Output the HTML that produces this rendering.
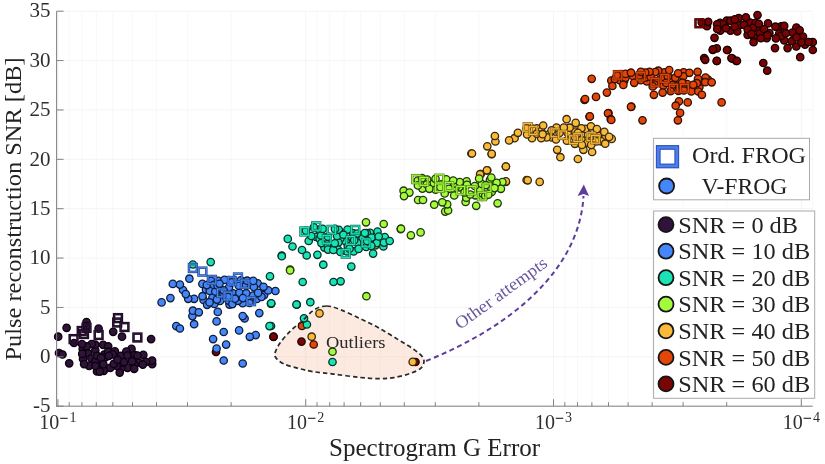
<!DOCTYPE html><html><head><meta charset="utf-8"><style>html,body{margin:0;padding:0;background:#fff;width:825px;height:464px;overflow:hidden}svg{display:block;filter:blur(0.3px)}</style></head><body><svg width="825" height="464" viewBox="0 0 825 464"><rect width="825" height="464" fill="#fff"/><line x1="57.90" y1="11.3" x2="57.90" y2="406.2" stroke="#f4f4f4" stroke-width="1"/><line x1="305.70" y1="11.3" x2="305.70" y2="406.2" stroke="#f4f4f4" stroke-width="1"/><line x1="231.10" y1="11.3" x2="231.10" y2="406.2" stroke="#f8f8f8" stroke-width="1"/><line x1="187.47" y1="11.3" x2="187.47" y2="406.2" stroke="#f8f8f8" stroke-width="1"/><line x1="156.51" y1="11.3" x2="156.51" y2="406.2" stroke="#f8f8f8" stroke-width="1"/><line x1="132.50" y1="11.3" x2="132.50" y2="406.2" stroke="#f8f8f8" stroke-width="1"/><line x1="112.87" y1="11.3" x2="112.87" y2="406.2" stroke="#f8f8f8" stroke-width="1"/><line x1="96.28" y1="11.3" x2="96.28" y2="406.2" stroke="#f8f8f8" stroke-width="1"/><line x1="81.91" y1="11.3" x2="81.91" y2="406.2" stroke="#f8f8f8" stroke-width="1"/><line x1="69.24" y1="11.3" x2="69.24" y2="406.2" stroke="#f8f8f8" stroke-width="1"/><line x1="553.50" y1="11.3" x2="553.50" y2="406.2" stroke="#f4f4f4" stroke-width="1"/><line x1="478.90" y1="11.3" x2="478.90" y2="406.2" stroke="#f8f8f8" stroke-width="1"/><line x1="435.27" y1="11.3" x2="435.27" y2="406.2" stroke="#f8f8f8" stroke-width="1"/><line x1="404.31" y1="11.3" x2="404.31" y2="406.2" stroke="#f8f8f8" stroke-width="1"/><line x1="380.30" y1="11.3" x2="380.30" y2="406.2" stroke="#f8f8f8" stroke-width="1"/><line x1="360.67" y1="11.3" x2="360.67" y2="406.2" stroke="#f8f8f8" stroke-width="1"/><line x1="344.08" y1="11.3" x2="344.08" y2="406.2" stroke="#f8f8f8" stroke-width="1"/><line x1="329.71" y1="11.3" x2="329.71" y2="406.2" stroke="#f8f8f8" stroke-width="1"/><line x1="317.04" y1="11.3" x2="317.04" y2="406.2" stroke="#f8f8f8" stroke-width="1"/><line x1="801.30" y1="11.3" x2="801.30" y2="406.2" stroke="#f4f4f4" stroke-width="1"/><line x1="726.70" y1="11.3" x2="726.70" y2="406.2" stroke="#f8f8f8" stroke-width="1"/><line x1="683.07" y1="11.3" x2="683.07" y2="406.2" stroke="#f8f8f8" stroke-width="1"/><line x1="652.11" y1="11.3" x2="652.11" y2="406.2" stroke="#f8f8f8" stroke-width="1"/><line x1="628.10" y1="11.3" x2="628.10" y2="406.2" stroke="#f8f8f8" stroke-width="1"/><line x1="608.47" y1="11.3" x2="608.47" y2="406.2" stroke="#f8f8f8" stroke-width="1"/><line x1="591.88" y1="11.3" x2="591.88" y2="406.2" stroke="#f8f8f8" stroke-width="1"/><line x1="577.51" y1="11.3" x2="577.51" y2="406.2" stroke="#f8f8f8" stroke-width="1"/><line x1="564.84" y1="11.3" x2="564.84" y2="406.2" stroke="#f8f8f8" stroke-width="1"/><line x1="812.64" y1="11.3" x2="812.64" y2="406.2" stroke="#f8f8f8" stroke-width="1"/><line x1="56.6" y1="406.17" x2="812.7" y2="406.17" stroke="#f4f4f4" stroke-width="1"/><line x1="56.6" y1="356.80" x2="812.7" y2="356.80" stroke="#f4f4f4" stroke-width="1"/><line x1="56.6" y1="307.43" x2="812.7" y2="307.43" stroke="#f4f4f4" stroke-width="1"/><line x1="56.6" y1="258.06" x2="812.7" y2="258.06" stroke="#f4f4f4" stroke-width="1"/><line x1="56.6" y1="208.69" x2="812.7" y2="208.69" stroke="#f4f4f4" stroke-width="1"/><line x1="56.6" y1="159.32" x2="812.7" y2="159.32" stroke="#f4f4f4" stroke-width="1"/><line x1="56.6" y1="109.95" x2="812.7" y2="109.95" stroke="#f4f4f4" stroke-width="1"/><line x1="56.6" y1="60.58" x2="812.7" y2="60.58" stroke="#f4f4f4" stroke-width="1"/><line x1="56.6" y1="11.21" x2="812.7" y2="11.21" stroke="#f4f4f4" stroke-width="1"/><path d="M326.6,306.0 C330.8,306.0 334.5,307.4 340.0,309.5 C345.5,311.6 352.9,315.2 359.4,318.3 C365.9,321.4 372.4,324.3 378.8,327.9 C385.2,331.4 392.3,336.0 398.1,339.6 C403.9,343.2 409.4,346.2 413.6,349.3 C417.8,352.4 422.2,355.4 423.5,358.5 C424.8,361.6 423.6,365.2 421.4,367.7 C419.1,370.2 414.6,371.9 410.0,373.5 C405.4,375.1 399.2,376.7 394.0,377.6 C388.8,378.5 384.6,378.7 378.8,378.7 C373.0,378.7 366.9,378.2 359.4,377.4 C351.8,376.6 341.3,375.1 333.5,374.1 C325.7,373.1 318.8,372.6 312.8,371.6 C306.8,370.6 302.2,369.4 297.3,368.1 C292.4,366.8 286.9,365.4 283.5,363.8 C280.1,362.2 278.0,360.3 276.6,358.6 C275.2,356.9 274.3,356.0 274.9,353.4 C275.5,350.8 277.4,346.8 280.0,343.1 C282.6,339.4 286.6,334.7 290.4,331.0 C294.1,327.3 298.5,324.3 302.5,320.7 C306.5,317.1 310.6,311.9 314.6,309.5 C318.6,307.1 322.4,306.0 326.6,306.0Z" fill="#f6b48f" fill-opacity="0.28" stroke="none"/><g><circle cx="750.2" cy="22.5" r="3.7" fill="#7a0403" stroke="#1a0000" stroke-width="1.3"/><circle cx="768.0" cy="23.4" r="3.7" fill="#7a0403" stroke="#1a0000" stroke-width="1.3"/><circle cx="757.5" cy="15.1" r="3.7" fill="#7a0403" stroke="#1a0000" stroke-width="1.3"/><circle cx="791.8" cy="41.2" r="3.7" fill="#7a0403" stroke="#1a0000" stroke-width="1.3"/><circle cx="796.4" cy="27.5" r="3.7" fill="#7a0403" stroke="#1a0000" stroke-width="1.3"/><circle cx="736.2" cy="61.0" r="3.7" fill="#7a0403" stroke="#1a0000" stroke-width="1.3"/><circle cx="769.4" cy="33.1" r="3.7" fill="#7a0403" stroke="#1a0000" stroke-width="1.3"/><circle cx="726.8" cy="20.7" r="3.7" fill="#7a0403" stroke="#1a0000" stroke-width="1.3"/><circle cx="779.2" cy="33.6" r="3.7" fill="#7a0403" stroke="#1a0000" stroke-width="1.3"/><circle cx="714.5" cy="37.8" r="3.7" fill="#7a0403" stroke="#1a0000" stroke-width="1.3"/><circle cx="720.1" cy="22.8" r="3.7" fill="#7a0403" stroke="#1a0000" stroke-width="1.3"/><circle cx="730.5" cy="30.7" r="3.7" fill="#7a0403" stroke="#1a0000" stroke-width="1.3"/><circle cx="738.7" cy="18.1" r="3.7" fill="#7a0403" stroke="#1a0000" stroke-width="1.3"/><circle cx="757.2" cy="28.3" r="3.7" fill="#7a0403" stroke="#1a0000" stroke-width="1.3"/><circle cx="273.5" cy="336.8" r="3.7" fill="#7a0403" stroke="#1a0000" stroke-width="1.3"/><circle cx="781.1" cy="26.4" r="3.7" fill="#7a0403" stroke="#1a0000" stroke-width="1.3"/><circle cx="716.8" cy="48.4" r="3.7" fill="#7a0403" stroke="#1a0000" stroke-width="1.3"/><circle cx="720.3" cy="30.6" r="3.7" fill="#7a0403" stroke="#1a0000" stroke-width="1.3"/><circle cx="722.9" cy="24.3" r="3.7" fill="#7a0403" stroke="#1a0000" stroke-width="1.3"/><circle cx="415.5" cy="362.0" r="3.7" fill="#7a0403" stroke="#1a0000" stroke-width="1.3"/><circle cx="716.8" cy="61.0" r="3.7" fill="#7a0403" stroke="#1a0000" stroke-width="1.3"/><circle cx="796.3" cy="46.5" r="3.7" fill="#7a0403" stroke="#1a0000" stroke-width="1.3"/><circle cx="805.0" cy="44.6" r="3.7" fill="#7a0403" stroke="#1a0000" stroke-width="1.3"/><circle cx="739.1" cy="25.3" r="3.7" fill="#7a0403" stroke="#1a0000" stroke-width="1.3"/><circle cx="726.0" cy="28.2" r="3.7" fill="#7a0403" stroke="#1a0000" stroke-width="1.3"/><circle cx="712.8" cy="50.0" r="3.7" fill="#7a0403" stroke="#1a0000" stroke-width="1.3"/><circle cx="812.8" cy="50.0" r="3.7" fill="#7a0403" stroke="#1a0000" stroke-width="1.3"/><circle cx="301.5" cy="341.6" r="3.7" fill="#7a0403" stroke="#1a0000" stroke-width="1.3"/><circle cx="712.9" cy="49.4" r="3.7" fill="#7a0403" stroke="#1a0000" stroke-width="1.3"/><circle cx="737.3" cy="31.5" r="3.7" fill="#7a0403" stroke="#1a0000" stroke-width="1.3"/><circle cx="754.1" cy="37.0" r="3.7" fill="#7a0403" stroke="#1a0000" stroke-width="1.3"/><circle cx="792.4" cy="32.6" r="3.7" fill="#7a0403" stroke="#1a0000" stroke-width="1.3"/><circle cx="784.2" cy="40.3" r="3.7" fill="#7a0403" stroke="#1a0000" stroke-width="1.3"/><circle cx="759.9" cy="33.4" r="3.7" fill="#7a0403" stroke="#1a0000" stroke-width="1.3"/><circle cx="744.0" cy="24.8" r="3.7" fill="#7a0403" stroke="#1a0000" stroke-width="1.3"/><circle cx="755.7" cy="22.8" r="3.7" fill="#7a0403" stroke="#1a0000" stroke-width="1.3"/><circle cx="732.5" cy="58.7" r="3.7" fill="#7a0403" stroke="#1a0000" stroke-width="1.3"/><circle cx="727.5" cy="50.0" r="3.7" fill="#7a0403" stroke="#1a0000" stroke-width="1.3"/><circle cx="803.0" cy="36.6" r="3.7" fill="#7a0403" stroke="#1a0000" stroke-width="1.3"/><circle cx="767.2" cy="70.7" r="3.7" fill="#7a0403" stroke="#1a0000" stroke-width="1.3"/><circle cx="775.0" cy="48.1" r="3.7" fill="#7a0403" stroke="#1a0000" stroke-width="1.3"/><circle cx="730.4" cy="20.7" r="3.7" fill="#7a0403" stroke="#1a0000" stroke-width="1.3"/><circle cx="734.7" cy="26.6" r="3.7" fill="#7a0403" stroke="#1a0000" stroke-width="1.3"/><circle cx="216.0" cy="352.0" r="3.7" fill="#7a0403" stroke="#1a0000" stroke-width="1.3"/><circle cx="787.6" cy="48.1" r="3.7" fill="#7a0403" stroke="#1a0000" stroke-width="1.3"/><circle cx="727.0" cy="50.0" r="3.7" fill="#7a0403" stroke="#1a0000" stroke-width="1.3"/><circle cx="717.1" cy="24.3" r="3.7" fill="#7a0403" stroke="#1a0000" stroke-width="1.3"/><circle cx="707.0" cy="26.2" r="3.7" fill="#7a0403" stroke="#1a0000" stroke-width="1.3"/><circle cx="764.0" cy="29.0" r="3.7" fill="#7a0403" stroke="#1a0000" stroke-width="1.3"/><circle cx="801.4" cy="42.4" r="3.7" fill="#7a0403" stroke="#1a0000" stroke-width="1.3"/><circle cx="812.8" cy="42.2" r="3.7" fill="#7a0403" stroke="#1a0000" stroke-width="1.3"/><circle cx="708.2" cy="21.8" r="3.7" fill="#7a0403" stroke="#1a0000" stroke-width="1.3"/><circle cx="734.8" cy="19.4" r="3.7" fill="#7a0403" stroke="#1a0000" stroke-width="1.3"/><circle cx="781.1" cy="35.9" r="3.7" fill="#7a0403" stroke="#1a0000" stroke-width="1.3"/><circle cx="784.2" cy="25.9" r="3.7" fill="#7a0403" stroke="#1a0000" stroke-width="1.3"/><circle cx="763.3" cy="63.0" r="3.7" fill="#7a0403" stroke="#1a0000" stroke-width="1.3"/><circle cx="766.7" cy="38.2" r="3.7" fill="#7a0403" stroke="#1a0000" stroke-width="1.3"/><circle cx="758.8" cy="23.8" r="3.7" fill="#7a0403" stroke="#1a0000" stroke-width="1.3"/><circle cx="747.6" cy="34.8" r="3.7" fill="#7a0403" stroke="#1a0000" stroke-width="1.3"/><circle cx="704.2" cy="58.1" r="3.7" fill="#7a0403" stroke="#1a0000" stroke-width="1.3"/><circle cx="705.2" cy="59.8" r="3.7" fill="#7a0403" stroke="#1a0000" stroke-width="1.3"/><circle cx="785.9" cy="33.2" r="3.7" fill="#7a0403" stroke="#1a0000" stroke-width="1.3"/><circle cx="753.6" cy="42.2" r="3.7" fill="#7a0403" stroke="#1a0000" stroke-width="1.3"/><circle cx="717.2" cy="29.0" r="3.7" fill="#7a0403" stroke="#1a0000" stroke-width="1.3"/><circle cx="775.4" cy="26.7" r="3.7" fill="#7a0403" stroke="#1a0000" stroke-width="1.3"/><circle cx="731.4" cy="58.1" r="3.7" fill="#7a0403" stroke="#1a0000" stroke-width="1.3"/><circle cx="701.7" cy="22.5" r="3.7" fill="#7a0403" stroke="#1a0000" stroke-width="1.3"/><circle cx="273.5" cy="336.7" r="3.7" fill="#7a0403" stroke="#1a0000" stroke-width="1.3"/><circle cx="752.8" cy="28.1" r="3.7" fill="#7a0403" stroke="#1a0000" stroke-width="1.3"/><circle cx="745.9" cy="17.4" r="3.7" fill="#7a0403" stroke="#1a0000" stroke-width="1.3"/><circle cx="716.8" cy="60.9" r="3.7" fill="#7a0403" stroke="#1a0000" stroke-width="1.3"/><circle cx="747.7" cy="29.6" r="3.7" fill="#7a0403" stroke="#1a0000" stroke-width="1.3"/><circle cx="799.7" cy="30.3" r="3.7" fill="#7a0403" stroke="#1a0000" stroke-width="1.3"/><circle cx="796.5" cy="37.4" r="3.7" fill="#7a0403" stroke="#1a0000" stroke-width="1.3"/><circle cx="808.6" cy="42.0" r="3.7" fill="#7a0403" stroke="#1a0000" stroke-width="1.3"/><circle cx="760.9" cy="38.2" r="3.7" fill="#7a0403" stroke="#1a0000" stroke-width="1.3"/><circle cx="736.9" cy="60.9" r="3.7" fill="#7a0403" stroke="#1a0000" stroke-width="1.3"/><circle cx="767.4" cy="35.2" r="3.7" fill="#7a0403" stroke="#1a0000" stroke-width="1.3"/><circle cx="775.9" cy="38.4" r="3.7" fill="#7a0403" stroke="#1a0000" stroke-width="1.3"/><circle cx="751.5" cy="34.0" r="3.7" fill="#7a0403" stroke="#1a0000" stroke-width="1.3"/><circle cx="800.2" cy="57.2" r="3.7" fill="#7a0403" stroke="#1a0000" stroke-width="1.3"/><circle cx="699.4" cy="87.1" r="3.7" fill="#e4460a" stroke="#320f02" stroke-width="1.3"/><circle cx="708.0" cy="79.5" r="3.7" fill="#e4460a" stroke="#320f02" stroke-width="1.3"/><circle cx="660.1" cy="79.3" r="3.7" fill="#e4460a" stroke="#320f02" stroke-width="1.3"/><circle cx="705.5" cy="77.5" r="3.7" fill="#e4460a" stroke="#320f02" stroke-width="1.3"/><circle cx="664.4" cy="72.4" r="3.7" fill="#e4460a" stroke="#320f02" stroke-width="1.3"/><circle cx="683.6" cy="72.3" r="3.7" fill="#e4460a" stroke="#320f02" stroke-width="1.3"/><circle cx="671.3" cy="78.7" r="3.7" fill="#e4460a" stroke="#320f02" stroke-width="1.3"/><circle cx="619.9" cy="80.4" r="3.7" fill="#e4460a" stroke="#320f02" stroke-width="1.3"/><circle cx="691.3" cy="91.4" r="3.7" fill="#e4460a" stroke="#320f02" stroke-width="1.3"/><circle cx="654.8" cy="81.1" r="3.7" fill="#e4460a" stroke="#320f02" stroke-width="1.3"/><circle cx="689.4" cy="72.8" r="3.7" fill="#e4460a" stroke="#320f02" stroke-width="1.3"/><circle cx="646.8" cy="81.4" r="3.7" fill="#e4460a" stroke="#320f02" stroke-width="1.3"/><circle cx="687.2" cy="84.1" r="3.7" fill="#e4460a" stroke="#320f02" stroke-width="1.3"/><circle cx="658.3" cy="70.7" r="3.7" fill="#e4460a" stroke="#320f02" stroke-width="1.3"/><circle cx="701.0" cy="81.5" r="3.7" fill="#e4460a" stroke="#320f02" stroke-width="1.3"/><circle cx="653.9" cy="94.8" r="3.7" fill="#e4460a" stroke="#320f02" stroke-width="1.3"/><circle cx="302.0" cy="326.0" r="3.7" fill="#e4460a" stroke="#320f02" stroke-width="1.3"/><circle cx="679.0" cy="101.3" r="3.7" fill="#e4460a" stroke="#320f02" stroke-width="1.3"/><circle cx="698.0" cy="78.9" r="3.7" fill="#e4460a" stroke="#320f02" stroke-width="1.3"/><circle cx="678.1" cy="85.7" r="3.7" fill="#e4460a" stroke="#320f02" stroke-width="1.3"/><circle cx="589.5" cy="116.6" r="3.7" fill="#e4460a" stroke="#320f02" stroke-width="1.3"/><circle cx="584.5" cy="100.0" r="3.7" fill="#e4460a" stroke="#320f02" stroke-width="1.3"/><circle cx="655.2" cy="72.1" r="3.7" fill="#e4460a" stroke="#320f02" stroke-width="1.3"/><circle cx="646.2" cy="77.3" r="3.7" fill="#e4460a" stroke="#320f02" stroke-width="1.3"/><circle cx="640.7" cy="80.2" r="3.7" fill="#e4460a" stroke="#320f02" stroke-width="1.3"/><circle cx="683.2" cy="76.4" r="3.7" fill="#e4460a" stroke="#320f02" stroke-width="1.3"/><circle cx="663.4" cy="85.7" r="3.7" fill="#e4460a" stroke="#320f02" stroke-width="1.3"/><circle cx="698.3" cy="91.5" r="3.7" fill="#e4460a" stroke="#320f02" stroke-width="1.3"/><circle cx="631.4" cy="106.6" r="3.7" fill="#e4460a" stroke="#320f02" stroke-width="1.3"/><circle cx="662.6" cy="92.6" r="3.7" fill="#e4460a" stroke="#320f02" stroke-width="1.3"/><circle cx="696.8" cy="83.2" r="3.7" fill="#e4460a" stroke="#320f02" stroke-width="1.3"/><circle cx="705.2" cy="82.2" r="3.7" fill="#e4460a" stroke="#320f02" stroke-width="1.3"/><circle cx="678.4" cy="90.8" r="3.7" fill="#e4460a" stroke="#320f02" stroke-width="1.3"/><circle cx="596.0" cy="96.9" r="3.7" fill="#e4460a" stroke="#320f02" stroke-width="1.3"/><circle cx="701.9" cy="94.8" r="3.7" fill="#e4460a" stroke="#320f02" stroke-width="1.3"/><circle cx="631.0" cy="106.8" r="3.7" fill="#e4460a" stroke="#320f02" stroke-width="1.3"/><circle cx="654.4" cy="84.6" r="3.7" fill="#e4460a" stroke="#320f02" stroke-width="1.3"/><circle cx="591.7" cy="78.8" r="3.7" fill="#e4460a" stroke="#320f02" stroke-width="1.3"/><circle cx="624.2" cy="80.8" r="3.7" fill="#e4460a" stroke="#320f02" stroke-width="1.3"/><circle cx="611.3" cy="80.6" r="3.7" fill="#e4460a" stroke="#320f02" stroke-width="1.3"/><circle cx="614.8" cy="79.1" r="3.7" fill="#e4460a" stroke="#320f02" stroke-width="1.3"/><circle cx="672.1" cy="85.1" r="3.7" fill="#e4460a" stroke="#320f02" stroke-width="1.3"/><circle cx="663.5" cy="77.1" r="3.7" fill="#e4460a" stroke="#320f02" stroke-width="1.3"/><circle cx="675.3" cy="77.8" r="3.7" fill="#e4460a" stroke="#320f02" stroke-width="1.3"/><circle cx="677.9" cy="120.3" r="3.7" fill="#e4460a" stroke="#320f02" stroke-width="1.3"/><circle cx="621.1" cy="74.1" r="3.7" fill="#e4460a" stroke="#320f02" stroke-width="1.3"/><circle cx="612.4" cy="86.0" r="3.7" fill="#e4460a" stroke="#320f02" stroke-width="1.3"/><circle cx="711.7" cy="82.3" r="3.7" fill="#e4460a" stroke="#320f02" stroke-width="1.3"/><circle cx="608.5" cy="113.1" r="3.7" fill="#e4460a" stroke="#320f02" stroke-width="1.3"/><circle cx="667.8" cy="76.4" r="3.7" fill="#e4460a" stroke="#320f02" stroke-width="1.3"/><circle cx="650.7" cy="77.0" r="3.7" fill="#e4460a" stroke="#320f02" stroke-width="1.3"/><circle cx="632.8" cy="76.0" r="3.7" fill="#e4460a" stroke="#320f02" stroke-width="1.3"/><circle cx="721.6" cy="102.4" r="3.7" fill="#e4460a" stroke="#320f02" stroke-width="1.3"/><circle cx="682.6" cy="86.5" r="3.7" fill="#e4460a" stroke="#320f02" stroke-width="1.3"/><circle cx="693.3" cy="84.8" r="3.7" fill="#e4460a" stroke="#320f02" stroke-width="1.3"/><circle cx="608.0" cy="113.3" r="3.7" fill="#e4460a" stroke="#320f02" stroke-width="1.3"/><circle cx="589.9" cy="116.4" r="3.7" fill="#e4460a" stroke="#320f02" stroke-width="1.3"/><circle cx="634.2" cy="82.8" r="3.7" fill="#e4460a" stroke="#320f02" stroke-width="1.3"/><circle cx="680.1" cy="112.9" r="3.7" fill="#e4460a" stroke="#320f02" stroke-width="1.3"/><circle cx="669.2" cy="70.1" r="3.7" fill="#e4460a" stroke="#320f02" stroke-width="1.3"/><circle cx="683.8" cy="90.5" r="3.7" fill="#e4460a" stroke="#320f02" stroke-width="1.3"/><circle cx="610.7" cy="119.2" r="3.7" fill="#e4460a" stroke="#320f02" stroke-width="1.3"/><circle cx="606.9" cy="92.6" r="3.7" fill="#e4460a" stroke="#320f02" stroke-width="1.3"/><circle cx="585.1" cy="99.1" r="3.7" fill="#e4460a" stroke="#320f02" stroke-width="1.3"/><circle cx="625.5" cy="77.7" r="3.7" fill="#e4460a" stroke="#320f02" stroke-width="1.3"/><circle cx="639.3" cy="75.4" r="3.7" fill="#e4460a" stroke="#320f02" stroke-width="1.3"/><circle cx="675.7" cy="105.7" r="3.7" fill="#e4460a" stroke="#320f02" stroke-width="1.3"/><circle cx="697.6" cy="71.8" r="3.7" fill="#e4460a" stroke="#320f02" stroke-width="1.3"/><circle cx="642.5" cy="120.3" r="3.7" fill="#e4460a" stroke="#320f02" stroke-width="1.3"/><circle cx="678.1" cy="73.3" r="3.7" fill="#e4460a" stroke="#320f02" stroke-width="1.3"/><circle cx="670.6" cy="91.2" r="3.7" fill="#e4460a" stroke="#320f02" stroke-width="1.3"/><circle cx="625.5" cy="73.9" r="3.7" fill="#e4460a" stroke="#320f02" stroke-width="1.3"/><circle cx="623.3" cy="84.9" r="3.7" fill="#e4460a" stroke="#320f02" stroke-width="1.3"/><circle cx="649.5" cy="71.8" r="3.7" fill="#e4460a" stroke="#320f02" stroke-width="1.3"/><circle cx="611.3" cy="119.9" r="3.7" fill="#e4460a" stroke="#320f02" stroke-width="1.3"/><circle cx="687.7" cy="102.4" r="3.7" fill="#e4460a" stroke="#320f02" stroke-width="1.3"/><circle cx="682.2" cy="82.7" r="3.7" fill="#e4460a" stroke="#320f02" stroke-width="1.3"/><circle cx="616.8" cy="75.4" r="3.7" fill="#e4460a" stroke="#320f02" stroke-width="1.3"/><circle cx="666.2" cy="82.9" r="3.7" fill="#e4460a" stroke="#320f02" stroke-width="1.3"/><circle cx="631.0" cy="72.7" r="3.7" fill="#e4460a" stroke="#320f02" stroke-width="1.3"/><circle cx="645.2" cy="72.5" r="3.7" fill="#e4460a" stroke="#320f02" stroke-width="1.3"/><circle cx="652.7" cy="86.4" r="3.7" fill="#e4460a" stroke="#320f02" stroke-width="1.3"/><circle cx="640.8" cy="71.8" r="3.7" fill="#e4460a" stroke="#320f02" stroke-width="1.3"/><circle cx="532.0" cy="138.2" r="3.7" fill="#faba39" stroke="#37280c" stroke-width="1.3"/><circle cx="539.7" cy="181.9" r="3.7" fill="#faba39" stroke="#37280c" stroke-width="1.3"/><circle cx="559.5" cy="133.0" r="3.7" fill="#faba39" stroke="#37280c" stroke-width="1.3"/><circle cx="526.6" cy="180.0" r="3.7" fill="#faba39" stroke="#37280c" stroke-width="1.3"/><circle cx="319.5" cy="313.4" r="3.7" fill="#faba39" stroke="#37280c" stroke-width="1.3"/><circle cx="592.1" cy="152.0" r="3.7" fill="#faba39" stroke="#37280c" stroke-width="1.3"/><circle cx="495.4" cy="141.5" r="3.7" fill="#faba39" stroke="#37280c" stroke-width="1.3"/><circle cx="590.1" cy="137.5" r="3.7" fill="#faba39" stroke="#37280c" stroke-width="1.3"/><circle cx="527.7" cy="180.3" r="3.7" fill="#faba39" stroke="#37280c" stroke-width="1.3"/><circle cx="581.6" cy="140.0" r="3.7" fill="#faba39" stroke="#37280c" stroke-width="1.3"/><circle cx="605.4" cy="137.7" r="3.7" fill="#faba39" stroke="#37280c" stroke-width="1.3"/><circle cx="575.7" cy="122.9" r="3.7" fill="#faba39" stroke="#37280c" stroke-width="1.3"/><circle cx="536.7" cy="128.4" r="3.7" fill="#faba39" stroke="#37280c" stroke-width="1.3"/><circle cx="583.4" cy="149.8" r="3.7" fill="#faba39" stroke="#37280c" stroke-width="1.3"/><circle cx="575.4" cy="131.6" r="3.7" fill="#faba39" stroke="#37280c" stroke-width="1.3"/><circle cx="551.7" cy="137.5" r="3.7" fill="#faba39" stroke="#37280c" stroke-width="1.3"/><circle cx="560.4" cy="157.2" r="3.7" fill="#faba39" stroke="#37280c" stroke-width="1.3"/><circle cx="487.3" cy="170.3" r="3.7" fill="#faba39" stroke="#37280c" stroke-width="1.3"/><circle cx="567.6" cy="133.0" r="3.7" fill="#faba39" stroke="#37280c" stroke-width="1.3"/><circle cx="587.9" cy="134.4" r="3.7" fill="#faba39" stroke="#37280c" stroke-width="1.3"/><circle cx="569.6" cy="127.7" r="3.7" fill="#faba39" stroke="#37280c" stroke-width="1.3"/><circle cx="585.4" cy="128.9" r="3.7" fill="#faba39" stroke="#37280c" stroke-width="1.3"/><circle cx="587.5" cy="142.8" r="3.7" fill="#faba39" stroke="#37280c" stroke-width="1.3"/><circle cx="471.4" cy="153.5" r="3.7" fill="#faba39" stroke="#37280c" stroke-width="1.3"/><circle cx="591.2" cy="144.9" r="3.7" fill="#faba39" stroke="#37280c" stroke-width="1.3"/><circle cx="480.7" cy="174.2" r="3.7" fill="#faba39" stroke="#37280c" stroke-width="1.3"/><circle cx="598.0" cy="135.6" r="3.7" fill="#faba39" stroke="#37280c" stroke-width="1.3"/><circle cx="532.2" cy="128.5" r="3.7" fill="#faba39" stroke="#37280c" stroke-width="1.3"/><circle cx="577.9" cy="159.0" r="3.7" fill="#faba39" stroke="#37280c" stroke-width="1.3"/><circle cx="611.7" cy="138.9" r="3.7" fill="#faba39" stroke="#37280c" stroke-width="1.3"/><circle cx="505.9" cy="181.9" r="3.7" fill="#faba39" stroke="#37280c" stroke-width="1.3"/><circle cx="487.3" cy="146.3" r="3.7" fill="#faba39" stroke="#37280c" stroke-width="1.3"/><circle cx="601.3" cy="141.3" r="3.7" fill="#faba39" stroke="#37280c" stroke-width="1.3"/><circle cx="604.3" cy="131.9" r="3.7" fill="#faba39" stroke="#37280c" stroke-width="1.3"/><circle cx="514.6" cy="138.2" r="3.7" fill="#faba39" stroke="#37280c" stroke-width="1.3"/><circle cx="541.3" cy="131.0" r="3.7" fill="#faba39" stroke="#37280c" stroke-width="1.3"/><circle cx="412.7" cy="361.9" r="3.7" fill="#faba39" stroke="#37280c" stroke-width="1.3"/><circle cx="548.9" cy="134.4" r="3.7" fill="#faba39" stroke="#37280c" stroke-width="1.3"/><circle cx="526.6" cy="128.4" r="3.7" fill="#faba39" stroke="#37280c" stroke-width="1.3"/><circle cx="546.6" cy="137.4" r="3.7" fill="#faba39" stroke="#37280c" stroke-width="1.3"/><circle cx="509.1" cy="140.4" r="3.7" fill="#faba39" stroke="#37280c" stroke-width="1.3"/><circle cx="541.2" cy="138.2" r="3.7" fill="#faba39" stroke="#37280c" stroke-width="1.3"/><circle cx="505.9" cy="181.4" r="3.7" fill="#faba39" stroke="#37280c" stroke-width="1.3"/><circle cx="517.9" cy="132.8" r="3.7" fill="#faba39" stroke="#37280c" stroke-width="1.3"/><circle cx="505.9" cy="166.6" r="3.7" fill="#faba39" stroke="#37280c" stroke-width="1.3"/><circle cx="543.2" cy="125.5" r="3.7" fill="#faba39" stroke="#37280c" stroke-width="1.3"/><circle cx="536.8" cy="133.7" r="3.7" fill="#faba39" stroke="#37280c" stroke-width="1.3"/><circle cx="574.9" cy="143.8" r="3.7" fill="#faba39" stroke="#37280c" stroke-width="1.3"/><circle cx="556.5" cy="127.5" r="3.7" fill="#faba39" stroke="#37280c" stroke-width="1.3"/><circle cx="574.8" cy="137.0" r="3.7" fill="#faba39" stroke="#37280c" stroke-width="1.3"/><circle cx="491.7" cy="154.1" r="3.7" fill="#faba39" stroke="#37280c" stroke-width="1.3"/><circle cx="311.7" cy="336.7" r="3.7" fill="#faba39" stroke="#37280c" stroke-width="1.3"/><circle cx="609.1" cy="136.9" r="3.7" fill="#faba39" stroke="#37280c" stroke-width="1.3"/><circle cx="480.1" cy="174.2" r="3.7" fill="#faba39" stroke="#37280c" stroke-width="1.3"/><circle cx="566.9" cy="140.7" r="3.7" fill="#faba39" stroke="#37280c" stroke-width="1.3"/><circle cx="494.9" cy="136.0" r="3.7" fill="#faba39" stroke="#37280c" stroke-width="1.3"/><circle cx="527.1" cy="134.5" r="3.7" fill="#faba39" stroke="#37280c" stroke-width="1.3"/><circle cx="605.2" cy="143.7" r="3.7" fill="#faba39" stroke="#37280c" stroke-width="1.3"/><circle cx="581.4" cy="128.3" r="3.7" fill="#faba39" stroke="#37280c" stroke-width="1.3"/><circle cx="486.9" cy="170.3" r="3.7" fill="#faba39" stroke="#37280c" stroke-width="1.3"/><circle cx="563.8" cy="127.5" r="3.7" fill="#faba39" stroke="#37280c" stroke-width="1.3"/><circle cx="591.0" cy="126.3" r="3.7" fill="#faba39" stroke="#37280c" stroke-width="1.3"/><circle cx="577.9" cy="132.9" r="3.7" fill="#faba39" stroke="#37280c" stroke-width="1.3"/><circle cx="551.6" cy="130.4" r="3.7" fill="#faba39" stroke="#37280c" stroke-width="1.3"/><circle cx="596.9" cy="129.1" r="3.7" fill="#faba39" stroke="#37280c" stroke-width="1.3"/><circle cx="542.6" cy="134.2" r="3.7" fill="#faba39" stroke="#37280c" stroke-width="1.3"/><circle cx="491.7" cy="153.9" r="3.7" fill="#faba39" stroke="#37280c" stroke-width="1.3"/><circle cx="505.9" cy="166.5" r="3.7" fill="#faba39" stroke="#37280c" stroke-width="1.3"/><circle cx="596.7" cy="141.4" r="3.7" fill="#faba39" stroke="#37280c" stroke-width="1.3"/><circle cx="566.6" cy="119.2" r="3.7" fill="#faba39" stroke="#37280c" stroke-width="1.3"/><circle cx="557.2" cy="149.8" r="3.7" fill="#faba39" stroke="#37280c" stroke-width="1.3"/><circle cx="581.9" cy="144.9" r="3.7" fill="#faba39" stroke="#37280c" stroke-width="1.3"/><circle cx="556.0" cy="139.5" r="3.7" fill="#faba39" stroke="#37280c" stroke-width="1.3"/><circle cx="472.0" cy="153.5" r="3.7" fill="#faba39" stroke="#37280c" stroke-width="1.3"/><circle cx="418.1" cy="200.0" r="3.7" fill="#a2fc3c" stroke="#23370d" stroke-width="1.3"/><circle cx="433.1" cy="183.9" r="3.7" fill="#a2fc3c" stroke="#23370d" stroke-width="1.3"/><circle cx="482.0" cy="196.8" r="3.7" fill="#a2fc3c" stroke="#23370d" stroke-width="1.3"/><circle cx="466.6" cy="181.4" r="3.7" fill="#a2fc3c" stroke="#23370d" stroke-width="1.3"/><circle cx="290.1" cy="269.5" r="3.7" fill="#a2fc3c" stroke="#23370d" stroke-width="1.3"/><circle cx="502.4" cy="182.0" r="3.7" fill="#a2fc3c" stroke="#23370d" stroke-width="1.3"/><circle cx="403.6" cy="190.7" r="3.7" fill="#a2fc3c" stroke="#23370d" stroke-width="1.3"/><circle cx="445.2" cy="211.6" r="3.7" fill="#a2fc3c" stroke="#23370d" stroke-width="1.3"/><circle cx="454.2" cy="195.5" r="3.7" fill="#a2fc3c" stroke="#23370d" stroke-width="1.3"/><circle cx="427.2" cy="179.7" r="3.7" fill="#a2fc3c" stroke="#23370d" stroke-width="1.3"/><circle cx="448.1" cy="210.5" r="3.7" fill="#a2fc3c" stroke="#23370d" stroke-width="1.3"/><circle cx="447.2" cy="204.3" r="3.7" fill="#a2fc3c" stroke="#23370d" stroke-width="1.3"/><circle cx="492.5" cy="182.1" r="3.7" fill="#a2fc3c" stroke="#23370d" stroke-width="1.3"/><circle cx="482.8" cy="193.7" r="3.7" fill="#a2fc3c" stroke="#23370d" stroke-width="1.3"/><circle cx="441.6" cy="184.3" r="3.7" fill="#a2fc3c" stroke="#23370d" stroke-width="1.3"/><circle cx="446.2" cy="179.3" r="3.7" fill="#a2fc3c" stroke="#23370d" stroke-width="1.3"/><circle cx="409.4" cy="192.6" r="3.7" fill="#a2fc3c" stroke="#23370d" stroke-width="1.3"/><circle cx="497.6" cy="203.3" r="3.7" fill="#a2fc3c" stroke="#23370d" stroke-width="1.3"/><circle cx="422.2" cy="183.3" r="3.7" fill="#a2fc3c" stroke="#23370d" stroke-width="1.3"/><circle cx="290.1" cy="270.4" r="3.7" fill="#a2fc3c" stroke="#23370d" stroke-width="1.3"/><circle cx="490.0" cy="179.9" r="3.7" fill="#a2fc3c" stroke="#23370d" stroke-width="1.3"/><circle cx="485.2" cy="196.0" r="3.7" fill="#a2fc3c" stroke="#23370d" stroke-width="1.3"/><circle cx="479.9" cy="189.3" r="3.7" fill="#a2fc3c" stroke="#23370d" stroke-width="1.3"/><circle cx="417.8" cy="180.5" r="3.7" fill="#a2fc3c" stroke="#23370d" stroke-width="1.3"/><circle cx="420.6" cy="232.4" r="3.7" fill="#a2fc3c" stroke="#23370d" stroke-width="1.3"/><circle cx="422.4" cy="188.6" r="3.7" fill="#a2fc3c" stroke="#23370d" stroke-width="1.3"/><circle cx="423.0" cy="200.0" r="3.7" fill="#a2fc3c" stroke="#23370d" stroke-width="1.3"/><circle cx="435.6" cy="189.7" r="3.7" fill="#a2fc3c" stroke="#23370d" stroke-width="1.3"/><circle cx="400.7" cy="229.1" r="3.7" fill="#a2fc3c" stroke="#23370d" stroke-width="1.3"/><circle cx="481.8" cy="184.0" r="3.7" fill="#a2fc3c" stroke="#23370d" stroke-width="1.3"/><circle cx="491.7" cy="191.9" r="3.7" fill="#a2fc3c" stroke="#23370d" stroke-width="1.3"/><circle cx="490.5" cy="186.9" r="3.7" fill="#a2fc3c" stroke="#23370d" stroke-width="1.3"/><circle cx="434.2" cy="204.7" r="3.7" fill="#a2fc3c" stroke="#23370d" stroke-width="1.3"/><circle cx="496.6" cy="182.9" r="3.7" fill="#a2fc3c" stroke="#23370d" stroke-width="1.3"/><circle cx="383.7" cy="224.0" r="3.7" fill="#a2fc3c" stroke="#23370d" stroke-width="1.3"/><circle cx="426.8" cy="184.5" r="3.7" fill="#a2fc3c" stroke="#23370d" stroke-width="1.3"/><circle cx="332.5" cy="351.7" r="3.7" fill="#a2fc3c" stroke="#23370d" stroke-width="1.3"/><circle cx="500.9" cy="188.8" r="3.7" fill="#a2fc3c" stroke="#23370d" stroke-width="1.3"/><circle cx="491.3" cy="177.5" r="3.7" fill="#a2fc3c" stroke="#23370d" stroke-width="1.3"/><circle cx="475.4" cy="195.3" r="3.7" fill="#a2fc3c" stroke="#23370d" stroke-width="1.3"/><circle cx="465.6" cy="201.9" r="3.7" fill="#a2fc3c" stroke="#23370d" stroke-width="1.3"/><circle cx="459.5" cy="187.3" r="3.7" fill="#a2fc3c" stroke="#23370d" stroke-width="1.3"/><circle cx="442.3" cy="202.3" r="3.7" fill="#a2fc3c" stroke="#23370d" stroke-width="1.3"/><circle cx="474.8" cy="186.0" r="3.7" fill="#a2fc3c" stroke="#23370d" stroke-width="1.3"/><circle cx="479.1" cy="178.5" r="3.7" fill="#a2fc3c" stroke="#23370d" stroke-width="1.3"/><circle cx="455.4" cy="187.6" r="3.7" fill="#a2fc3c" stroke="#23370d" stroke-width="1.3"/><circle cx="375.5" cy="245.3" r="3.7" fill="#a2fc3c" stroke="#23370d" stroke-width="1.3"/><circle cx="476.2" cy="205.8" r="3.7" fill="#a2fc3c" stroke="#23370d" stroke-width="1.3"/><circle cx="454.0" cy="183.6" r="3.7" fill="#a2fc3c" stroke="#23370d" stroke-width="1.3"/><circle cx="440.4" cy="187.2" r="3.7" fill="#a2fc3c" stroke="#23370d" stroke-width="1.3"/><circle cx="404.0" cy="196.1" r="3.7" fill="#a2fc3c" stroke="#23370d" stroke-width="1.3"/><circle cx="429.3" cy="188.8" r="3.7" fill="#a2fc3c" stroke="#23370d" stroke-width="1.3"/><circle cx="401.0" cy="228.7" r="3.7" fill="#a2fc3c" stroke="#23370d" stroke-width="1.3"/><circle cx="448.9" cy="188.9" r="3.7" fill="#a2fc3c" stroke="#23370d" stroke-width="1.3"/><circle cx="417.9" cy="185.4" r="3.7" fill="#a2fc3c" stroke="#23370d" stroke-width="1.3"/><circle cx="444.7" cy="193.4" r="3.7" fill="#a2fc3c" stroke="#23370d" stroke-width="1.3"/><circle cx="435.5" cy="178.8" r="3.7" fill="#a2fc3c" stroke="#23370d" stroke-width="1.3"/><circle cx="366.0" cy="222.3" r="3.7" fill="#a2fc3c" stroke="#23370d" stroke-width="1.3"/><circle cx="459.7" cy="182.1" r="3.7" fill="#a2fc3c" stroke="#23370d" stroke-width="1.3"/><circle cx="466.3" cy="197.7" r="3.7" fill="#a2fc3c" stroke="#23370d" stroke-width="1.3"/><circle cx="494.5" cy="188.1" r="3.7" fill="#a2fc3c" stroke="#23370d" stroke-width="1.3"/><circle cx="366.4" cy="296.2" r="3.7" fill="#a2fc3c" stroke="#23370d" stroke-width="1.3"/><circle cx="470.2" cy="194.5" r="3.7" fill="#a2fc3c" stroke="#23370d" stroke-width="1.3"/><circle cx="467.0" cy="184.9" r="3.7" fill="#a2fc3c" stroke="#23370d" stroke-width="1.3"/><circle cx="422.0" cy="178.2" r="3.7" fill="#a2fc3c" stroke="#23370d" stroke-width="1.3"/><circle cx="464.5" cy="192.4" r="3.7" fill="#a2fc3c" stroke="#23370d" stroke-width="1.3"/><circle cx="485.9" cy="185.1" r="3.7" fill="#a2fc3c" stroke="#23370d" stroke-width="1.3"/><circle cx="453.2" cy="180.5" r="3.7" fill="#a2fc3c" stroke="#23370d" stroke-width="1.3"/><circle cx="410.9" cy="235.3" r="3.7" fill="#a2fc3c" stroke="#23370d" stroke-width="1.3"/><circle cx="488.3" cy="194.7" r="3.7" fill="#a2fc3c" stroke="#23370d" stroke-width="1.3"/><circle cx="366.1" cy="247.0" r="3.7" fill="#1ae4b6" stroke="#053228" stroke-width="1.3"/><circle cx="306.9" cy="324.5" r="3.7" fill="#1ae4b6" stroke="#053228" stroke-width="1.3"/><circle cx="367.8" cy="236.4" r="3.7" fill="#1ae4b6" stroke="#053228" stroke-width="1.3"/><circle cx="370.0" cy="232.8" r="3.7" fill="#1ae4b6" stroke="#053228" stroke-width="1.3"/><circle cx="308.7" cy="241.0" r="3.7" fill="#1ae4b6" stroke="#053228" stroke-width="1.3"/><circle cx="362.6" cy="238.4" r="3.7" fill="#1ae4b6" stroke="#053228" stroke-width="1.3"/><circle cx="366.8" cy="233.2" r="3.7" fill="#1ae4b6" stroke="#053228" stroke-width="1.3"/><circle cx="351.3" cy="266.6" r="3.7" fill="#1ae4b6" stroke="#053228" stroke-width="1.3"/><circle cx="352.1" cy="237.5" r="3.7" fill="#1ae4b6" stroke="#053228" stroke-width="1.3"/><circle cx="345.6" cy="241.3" r="3.7" fill="#1ae4b6" stroke="#053228" stroke-width="1.3"/><circle cx="384.8" cy="237.0" r="3.7" fill="#1ae4b6" stroke="#053228" stroke-width="1.3"/><circle cx="287.8" cy="238.9" r="3.7" fill="#1ae4b6" stroke="#053228" stroke-width="1.3"/><circle cx="302.7" cy="282.0" r="3.7" fill="#1ae4b6" stroke="#053228" stroke-width="1.3"/><circle cx="319.2" cy="229.7" r="3.7" fill="#1ae4b6" stroke="#053228" stroke-width="1.3"/><circle cx="315.9" cy="236.8" r="3.7" fill="#1ae4b6" stroke="#053228" stroke-width="1.3"/><circle cx="319.6" cy="238.8" r="3.7" fill="#1ae4b6" stroke="#053228" stroke-width="1.3"/><circle cx="340.5" cy="238.3" r="3.7" fill="#1ae4b6" stroke="#053228" stroke-width="1.3"/><circle cx="340.6" cy="281.3" r="3.7" fill="#1ae4b6" stroke="#053228" stroke-width="1.3"/><circle cx="333.5" cy="282.0" r="3.7" fill="#1ae4b6" stroke="#053228" stroke-width="1.3"/><circle cx="281.8" cy="255.5" r="3.7" fill="#1ae4b6" stroke="#053228" stroke-width="1.3"/><circle cx="311.3" cy="236.0" r="3.7" fill="#1ae4b6" stroke="#053228" stroke-width="1.3"/><circle cx="376.8" cy="243.1" r="3.7" fill="#1ae4b6" stroke="#053228" stroke-width="1.3"/><circle cx="339.5" cy="233.8" r="3.7" fill="#1ae4b6" stroke="#053228" stroke-width="1.3"/><circle cx="353.7" cy="251.4" r="3.7" fill="#1ae4b6" stroke="#053228" stroke-width="1.3"/><circle cx="338.4" cy="242.6" r="3.7" fill="#1ae4b6" stroke="#053228" stroke-width="1.3"/><circle cx="327.9" cy="236.7" r="3.7" fill="#1ae4b6" stroke="#053228" stroke-width="1.3"/><circle cx="332.5" cy="362.0" r="3.7" fill="#1ae4b6" stroke="#053228" stroke-width="1.3"/><circle cx="271.1" cy="303.6" r="3.7" fill="#1ae4b6" stroke="#053228" stroke-width="1.3"/><circle cx="281.8" cy="256.2" r="3.7" fill="#1ae4b6" stroke="#053228" stroke-width="1.3"/><circle cx="357.2" cy="242.9" r="3.7" fill="#1ae4b6" stroke="#053228" stroke-width="1.3"/><circle cx="324.4" cy="247.6" r="3.7" fill="#1ae4b6" stroke="#053228" stroke-width="1.3"/><circle cx="377.5" cy="231.5" r="3.7" fill="#1ae4b6" stroke="#053228" stroke-width="1.3"/><circle cx="327.1" cy="244.4" r="3.7" fill="#1ae4b6" stroke="#053228" stroke-width="1.3"/><circle cx="337.1" cy="236.0" r="3.7" fill="#1ae4b6" stroke="#053228" stroke-width="1.3"/><circle cx="306.7" cy="255.5" r="3.7" fill="#1ae4b6" stroke="#053228" stroke-width="1.3"/><circle cx="383.4" cy="246.4" r="3.7" fill="#1ae4b6" stroke="#053228" stroke-width="1.3"/><circle cx="271.0" cy="303.7" r="3.7" fill="#1ae4b6" stroke="#053228" stroke-width="1.3"/><circle cx="352.8" cy="233.1" r="3.7" fill="#1ae4b6" stroke="#053228" stroke-width="1.3"/><circle cx="371.6" cy="237.6" r="3.7" fill="#1ae4b6" stroke="#053228" stroke-width="1.3"/><circle cx="371.3" cy="245.9" r="3.7" fill="#1ae4b6" stroke="#053228" stroke-width="1.3"/><circle cx="384.0" cy="242.6" r="3.7" fill="#1ae4b6" stroke="#053228" stroke-width="1.3"/><circle cx="270.0" cy="276.3" r="3.7" fill="#1ae4b6" stroke="#053228" stroke-width="1.3"/><circle cx="292.5" cy="246.5" r="3.7" fill="#1ae4b6" stroke="#053228" stroke-width="1.3"/><circle cx="321.0" cy="235.5" r="3.7" fill="#1ae4b6" stroke="#053228" stroke-width="1.3"/><circle cx="296.8" cy="304.7" r="3.7" fill="#1ae4b6" stroke="#053228" stroke-width="1.3"/><circle cx="389.7" cy="241.0" r="3.7" fill="#1ae4b6" stroke="#053228" stroke-width="1.3"/><circle cx="357.1" cy="233.6" r="3.7" fill="#1ae4b6" stroke="#053228" stroke-width="1.3"/><circle cx="306.0" cy="230.8" r="3.7" fill="#1ae4b6" stroke="#053228" stroke-width="1.3"/><circle cx="338.0" cy="249.5" r="3.7" fill="#1ae4b6" stroke="#053228" stroke-width="1.3"/><circle cx="364.8" cy="233.0" r="3.7" fill="#1ae4b6" stroke="#053228" stroke-width="1.3"/><circle cx="367.1" cy="240.9" r="3.7" fill="#1ae4b6" stroke="#053228" stroke-width="1.3"/><circle cx="322.7" cy="228.9" r="3.7" fill="#1ae4b6" stroke="#053228" stroke-width="1.3"/><circle cx="338.8" cy="229.8" r="3.7" fill="#1ae4b6" stroke="#053228" stroke-width="1.3"/><circle cx="302.0" cy="250.0" r="3.7" fill="#1ae4b6" stroke="#053228" stroke-width="1.3"/><circle cx="346.9" cy="251.4" r="3.7" fill="#1ae4b6" stroke="#053228" stroke-width="1.3"/><circle cx="378.7" cy="236.5" r="3.7" fill="#1ae4b6" stroke="#053228" stroke-width="1.3"/><circle cx="334.9" cy="228.9" r="3.7" fill="#1ae4b6" stroke="#053228" stroke-width="1.3"/><circle cx="317.4" cy="254.8" r="3.7" fill="#1ae4b6" stroke="#053228" stroke-width="1.3"/><circle cx="328.0" cy="249.6" r="3.7" fill="#1ae4b6" stroke="#053228" stroke-width="1.3"/><circle cx="347.5" cy="229.6" r="3.7" fill="#1ae4b6" stroke="#053228" stroke-width="1.3"/><circle cx="271.2" cy="303.3" r="3.7" fill="#1ae4b6" stroke="#053228" stroke-width="1.3"/><circle cx="310.3" cy="302.2" r="3.7" fill="#1ae4b6" stroke="#053228" stroke-width="1.3"/><circle cx="354.2" cy="240.2" r="3.7" fill="#1ae4b6" stroke="#053228" stroke-width="1.3"/><circle cx="323.3" cy="264.7" r="3.7" fill="#1ae4b6" stroke="#053228" stroke-width="1.3"/><circle cx="271.0" cy="326.0" r="3.7" fill="#1ae4b6" stroke="#053228" stroke-width="1.3"/><circle cx="210.7" cy="262.1" r="3.7" fill="#1ae4b6" stroke="#053228" stroke-width="1.3"/><circle cx="343.4" cy="234.7" r="3.7" fill="#1ae4b6" stroke="#053228" stroke-width="1.3"/><circle cx="333.3" cy="250.0" r="3.7" fill="#1ae4b6" stroke="#053228" stroke-width="1.3"/><circle cx="192.9" cy="264.5" r="3.7" fill="#1ae4b6" stroke="#053228" stroke-width="1.3"/><circle cx="269.5" cy="326.1" r="3.7" fill="#1ae4b6" stroke="#053228" stroke-width="1.3"/><circle cx="347.8" cy="246.4" r="3.7" fill="#1ae4b6" stroke="#053228" stroke-width="1.3"/><circle cx="304.0" cy="318.3" r="3.7" fill="#1ae4b6" stroke="#053228" stroke-width="1.3"/><circle cx="340.4" cy="252.0" r="3.7" fill="#1ae4b6" stroke="#053228" stroke-width="1.3"/><circle cx="296.5" cy="304.5" r="3.7" fill="#1ae4b6" stroke="#053228" stroke-width="1.3"/><circle cx="334.8" cy="243.3" r="3.7" fill="#1ae4b6" stroke="#053228" stroke-width="1.3"/><circle cx="373.1" cy="253.6" r="3.7" fill="#1ae4b6" stroke="#053228" stroke-width="1.3"/><circle cx="313.8" cy="227.4" r="3.7" fill="#1ae4b6" stroke="#053228" stroke-width="1.3"/><circle cx="349.5" cy="248.7" r="3.7" fill="#1ae4b6" stroke="#053228" stroke-width="1.3"/><circle cx="321.4" cy="243.1" r="3.7" fill="#1ae4b6" stroke="#053228" stroke-width="1.3"/><circle cx="358.6" cy="248.9" r="3.7" fill="#1ae4b6" stroke="#053228" stroke-width="1.3"/><circle cx="194.1" cy="324.2" r="3.7" fill="#4686fb" stroke="#0f1d37" stroke-width="1.3"/><circle cx="203.6" cy="300.0" r="3.7" fill="#4686fb" stroke="#0f1d37" stroke-width="1.3"/><circle cx="202.5" cy="296.2" r="3.7" fill="#4686fb" stroke="#0f1d37" stroke-width="1.3"/><circle cx="249.5" cy="303.0" r="3.7" fill="#4686fb" stroke="#0f1d37" stroke-width="1.3"/><circle cx="233.0" cy="293.3" r="3.7" fill="#4686fb" stroke="#0f1d37" stroke-width="1.3"/><circle cx="255.7" cy="335.1" r="3.7" fill="#4686fb" stroke="#0f1d37" stroke-width="1.3"/><circle cx="213.1" cy="339.1" r="3.7" fill="#4686fb" stroke="#0f1d37" stroke-width="1.3"/><circle cx="183.0" cy="290.0" r="3.7" fill="#4686fb" stroke="#0f1d37" stroke-width="1.3"/><circle cx="192.4" cy="316.1" r="3.7" fill="#4686fb" stroke="#0f1d37" stroke-width="1.3"/><circle cx="244.3" cy="284.5" r="3.7" fill="#4686fb" stroke="#0f1d37" stroke-width="1.3"/><circle cx="217.8" cy="311.9" r="3.7" fill="#4686fb" stroke="#0f1d37" stroke-width="1.3"/><circle cx="194.1" cy="298.8" r="3.7" fill="#4686fb" stroke="#0f1d37" stroke-width="1.3"/><circle cx="240.8" cy="280.3" r="3.7" fill="#4686fb" stroke="#0f1d37" stroke-width="1.3"/><circle cx="216.9" cy="294.8" r="3.7" fill="#4686fb" stroke="#0f1d37" stroke-width="1.3"/><circle cx="259.3" cy="313.1" r="3.7" fill="#4686fb" stroke="#0f1d37" stroke-width="1.3"/><circle cx="239.4" cy="292.9" r="3.7" fill="#4686fb" stroke="#0f1d37" stroke-width="1.3"/><circle cx="229.5" cy="304.6" r="3.7" fill="#4686fb" stroke="#0f1d37" stroke-width="1.3"/><circle cx="242.7" cy="303.2" r="3.7" fill="#4686fb" stroke="#0f1d37" stroke-width="1.3"/><circle cx="228.6" cy="300.6" r="3.7" fill="#4686fb" stroke="#0f1d37" stroke-width="1.3"/><circle cx="179.9" cy="284.6" r="3.7" fill="#4686fb" stroke="#0f1d37" stroke-width="1.3"/><circle cx="247.1" cy="280.7" r="3.7" fill="#4686fb" stroke="#0f1d37" stroke-width="1.3"/><circle cx="232.4" cy="304.1" r="3.7" fill="#4686fb" stroke="#0f1d37" stroke-width="1.3"/><circle cx="207.1" cy="304.8" r="3.7" fill="#4686fb" stroke="#0f1d37" stroke-width="1.3"/><circle cx="257.6" cy="283.3" r="3.7" fill="#4686fb" stroke="#0f1d37" stroke-width="1.3"/><circle cx="192.9" cy="310.7" r="3.7" fill="#4686fb" stroke="#0f1d37" stroke-width="1.3"/><circle cx="229.0" cy="287.6" r="3.7" fill="#4686fb" stroke="#0f1d37" stroke-width="1.3"/><circle cx="238.0" cy="300.8" r="3.7" fill="#4686fb" stroke="#0f1d37" stroke-width="1.3"/><circle cx="218.3" cy="280.8" r="3.7" fill="#4686fb" stroke="#0f1d37" stroke-width="1.3"/><circle cx="234.9" cy="298.7" r="3.7" fill="#4686fb" stroke="#0f1d37" stroke-width="1.3"/><circle cx="221.2" cy="298.6" r="3.7" fill="#4686fb" stroke="#0f1d37" stroke-width="1.3"/><circle cx="206.0" cy="289.4" r="3.7" fill="#4686fb" stroke="#0f1d37" stroke-width="1.3"/><circle cx="256.8" cy="298.9" r="3.7" fill="#4686fb" stroke="#0f1d37" stroke-width="1.3"/><circle cx="209.8" cy="290.9" r="3.7" fill="#4686fb" stroke="#0f1d37" stroke-width="1.3"/><circle cx="223.5" cy="293.9" r="3.7" fill="#4686fb" stroke="#0f1d37" stroke-width="1.3"/><circle cx="214.3" cy="303.9" r="3.7" fill="#4686fb" stroke="#0f1d37" stroke-width="1.3"/><circle cx="176.3" cy="326.1" r="3.7" fill="#4686fb" stroke="#0f1d37" stroke-width="1.3"/><circle cx="242.7" cy="363.5" r="3.7" fill="#4686fb" stroke="#0f1d37" stroke-width="1.3"/><circle cx="249.8" cy="336.8" r="3.7" fill="#4686fb" stroke="#0f1d37" stroke-width="1.3"/><circle cx="220.0" cy="301.0" r="3.7" fill="#4686fb" stroke="#0f1d37" stroke-width="1.3"/><circle cx="179.9" cy="328.5" r="3.7" fill="#4686fb" stroke="#0f1d37" stroke-width="1.3"/><circle cx="226.1" cy="344.6" r="3.7" fill="#4686fb" stroke="#0f1d37" stroke-width="1.3"/><circle cx="238.8" cy="285.7" r="3.7" fill="#4686fb" stroke="#0f1d37" stroke-width="1.3"/><circle cx="244.6" cy="318.5" r="3.7" fill="#4686fb" stroke="#0f1d37" stroke-width="1.3"/><circle cx="212.4" cy="297.9" r="3.7" fill="#4686fb" stroke="#0f1d37" stroke-width="1.3"/><circle cx="239.1" cy="330.4" r="3.7" fill="#4686fb" stroke="#0f1d37" stroke-width="1.3"/><circle cx="264.1" cy="295.1" r="3.7" fill="#4686fb" stroke="#0f1d37" stroke-width="1.3"/><circle cx="228.8" cy="280.2" r="3.7" fill="#4686fb" stroke="#0f1d37" stroke-width="1.3"/><circle cx="209.5" cy="302.4" r="3.7" fill="#4686fb" stroke="#0f1d37" stroke-width="1.3"/><circle cx="253.9" cy="287.1" r="3.7" fill="#4686fb" stroke="#0f1d37" stroke-width="1.3"/><circle cx="215.3" cy="291.5" r="3.7" fill="#4686fb" stroke="#0f1d37" stroke-width="1.3"/><circle cx="202.4" cy="283.9" r="3.7" fill="#4686fb" stroke="#0f1d37" stroke-width="1.3"/><circle cx="253.0" cy="295.5" r="3.7" fill="#4686fb" stroke="#0f1d37" stroke-width="1.3"/><circle cx="224.5" cy="279.9" r="3.7" fill="#4686fb" stroke="#0f1d37" stroke-width="1.3"/><circle cx="189.4" cy="278.7" r="3.7" fill="#4686fb" stroke="#0f1d37" stroke-width="1.3"/><circle cx="261.5" cy="296.9" r="3.7" fill="#4686fb" stroke="#0f1d37" stroke-width="1.3"/><circle cx="188.2" cy="298.8" r="3.7" fill="#4686fb" stroke="#0f1d37" stroke-width="1.3"/><circle cx="275.4" cy="291.0" r="3.7" fill="#4686fb" stroke="#0f1d37" stroke-width="1.3"/><circle cx="198.8" cy="312.3" r="3.7" fill="#4686fb" stroke="#0f1d37" stroke-width="1.3"/><circle cx="211.0" cy="280.8" r="3.7" fill="#4686fb" stroke="#0f1d37" stroke-width="1.3"/><circle cx="185.8" cy="294.1" r="3.7" fill="#4686fb" stroke="#0f1d37" stroke-width="1.3"/><circle cx="206.8" cy="285.1" r="3.7" fill="#4686fb" stroke="#0f1d37" stroke-width="1.3"/><circle cx="170.4" cy="298.1" r="3.7" fill="#4686fb" stroke="#0f1d37" stroke-width="1.3"/><circle cx="231.5" cy="282.3" r="3.7" fill="#4686fb" stroke="#0f1d37" stroke-width="1.3"/><circle cx="216.6" cy="348.6" r="3.7" fill="#4686fb" stroke="#0f1d37" stroke-width="1.3"/><circle cx="258.1" cy="292.9" r="3.7" fill="#4686fb" stroke="#0f1d37" stroke-width="1.3"/><circle cx="246.2" cy="293.2" r="3.7" fill="#4686fb" stroke="#0f1d37" stroke-width="1.3"/><circle cx="172.8" cy="283.9" r="3.7" fill="#4686fb" stroke="#0f1d37" stroke-width="1.3"/><circle cx="228.0" cy="297.1" r="3.7" fill="#4686fb" stroke="#0f1d37" stroke-width="1.3"/><circle cx="253.2" cy="280.9" r="3.7" fill="#4686fb" stroke="#0f1d37" stroke-width="1.3"/><circle cx="216.9" cy="299.6" r="3.7" fill="#4686fb" stroke="#0f1d37" stroke-width="1.3"/><circle cx="223.6" cy="290.3" r="3.7" fill="#4686fb" stroke="#0f1d37" stroke-width="1.3"/><circle cx="242.9" cy="298.1" r="3.7" fill="#4686fb" stroke="#0f1d37" stroke-width="1.3"/><circle cx="213.9" cy="284.9" r="3.7" fill="#4686fb" stroke="#0f1d37" stroke-width="1.3"/><circle cx="268.2" cy="290.4" r="3.7" fill="#4686fb" stroke="#0f1d37" stroke-width="1.3"/><circle cx="223.7" cy="332.0" r="3.7" fill="#4686fb" stroke="#0f1d37" stroke-width="1.3"/><circle cx="263.5" cy="286.8" r="3.7" fill="#4686fb" stroke="#0f1d37" stroke-width="1.3"/><circle cx="161.6" cy="302.4" r="3.7" fill="#4686fb" stroke="#0f1d37" stroke-width="1.3"/><circle cx="242.7" cy="316.1" r="3.7" fill="#4686fb" stroke="#0f1d37" stroke-width="1.3"/><circle cx="223.7" cy="360.5" r="3.7" fill="#4686fb" stroke="#0f1d37" stroke-width="1.3"/><circle cx="217.5" cy="285.4" r="3.7" fill="#4686fb" stroke="#0f1d37" stroke-width="1.3"/><circle cx="219.5" cy="283.8" r="3.7" fill="#4686fb" stroke="#0f1d37" stroke-width="1.3"/><circle cx="216.6" cy="321.4" r="3.7" fill="#4686fb" stroke="#0f1d37" stroke-width="1.3"/><circle cx="87.8" cy="353.2" r="3.7" fill="#30123b" stroke="#0a030c" stroke-width="1.3"/><circle cx="74.0" cy="343.0" r="3.7" fill="#30123b" stroke="#0a030c" stroke-width="1.3"/><circle cx="143.3" cy="354.9" r="3.7" fill="#30123b" stroke="#0a030c" stroke-width="1.3"/><circle cx="110.2" cy="367.9" r="3.7" fill="#30123b" stroke="#0a030c" stroke-width="1.3"/><circle cx="97.0" cy="371.4" r="3.7" fill="#30123b" stroke="#0a030c" stroke-width="1.3"/><circle cx="138.8" cy="362.5" r="3.7" fill="#30123b" stroke="#0a030c" stroke-width="1.3"/><circle cx="95.3" cy="350.3" r="3.7" fill="#30123b" stroke="#0a030c" stroke-width="1.3"/><circle cx="59.0" cy="353.0" r="3.7" fill="#30123b" stroke="#0a030c" stroke-width="1.3"/><circle cx="152.2" cy="364.1" r="3.7" fill="#30123b" stroke="#0a030c" stroke-width="1.3"/><circle cx="127.5" cy="367.9" r="3.7" fill="#30123b" stroke="#0a030c" stroke-width="1.3"/><circle cx="86.5" cy="322.1" r="3.7" fill="#30123b" stroke="#0a030c" stroke-width="1.3"/><circle cx="114.9" cy="351.4" r="3.7" fill="#30123b" stroke="#0a030c" stroke-width="1.3"/><circle cx="103.1" cy="344.8" r="3.7" fill="#30123b" stroke="#0a030c" stroke-width="1.3"/><circle cx="86.5" cy="326.0" r="3.7" fill="#30123b" stroke="#0a030c" stroke-width="1.3"/><circle cx="122.0" cy="336.7" r="3.7" fill="#30123b" stroke="#0a030c" stroke-width="1.3"/><circle cx="121.4" cy="367.8" r="3.7" fill="#30123b" stroke="#0a030c" stroke-width="1.3"/><circle cx="121.7" cy="362.7" r="3.7" fill="#30123b" stroke="#0a030c" stroke-width="1.3"/><circle cx="152.1" cy="360.7" r="3.7" fill="#30123b" stroke="#0a030c" stroke-width="1.3"/><circle cx="91.4" cy="358.4" r="3.7" fill="#30123b" stroke="#0a030c" stroke-width="1.3"/><circle cx="145.9" cy="361.9" r="3.7" fill="#30123b" stroke="#0a030c" stroke-width="1.3"/><circle cx="134.4" cy="364.8" r="3.7" fill="#30123b" stroke="#0a030c" stroke-width="1.3"/><circle cx="69.2" cy="363.3" r="3.7" fill="#30123b" stroke="#0a030c" stroke-width="1.3"/><circle cx="95.7" cy="360.6" r="3.7" fill="#30123b" stroke="#0a030c" stroke-width="1.3"/><circle cx="104.2" cy="354.7" r="3.7" fill="#30123b" stroke="#0a030c" stroke-width="1.3"/><circle cx="98.9" cy="365.8" r="3.7" fill="#30123b" stroke="#0a030c" stroke-width="1.3"/><circle cx="58.2" cy="336.7" r="3.7" fill="#30123b" stroke="#0a030c" stroke-width="1.3"/><circle cx="108.2" cy="346.3" r="3.7" fill="#30123b" stroke="#0a030c" stroke-width="1.3"/><circle cx="131.5" cy="348.9" r="3.7" fill="#30123b" stroke="#0a030c" stroke-width="1.3"/><circle cx="120.8" cy="355.8" r="3.7" fill="#30123b" stroke="#0a030c" stroke-width="1.3"/><circle cx="108.1" cy="351.7" r="3.7" fill="#30123b" stroke="#0a030c" stroke-width="1.3"/><circle cx="119.7" cy="372.6" r="3.7" fill="#30123b" stroke="#0a030c" stroke-width="1.3"/><circle cx="134.7" cy="355.0" r="3.7" fill="#30123b" stroke="#0a030c" stroke-width="1.3"/><circle cx="82.7" cy="348.9" r="3.7" fill="#30123b" stroke="#0a030c" stroke-width="1.3"/><circle cx="116.7" cy="365.9" r="3.7" fill="#30123b" stroke="#0a030c" stroke-width="1.3"/><circle cx="126.3" cy="351.5" r="3.7" fill="#30123b" stroke="#0a030c" stroke-width="1.3"/><circle cx="113.8" cy="363.9" r="3.7" fill="#30123b" stroke="#0a030c" stroke-width="1.3"/><circle cx="124.0" cy="362.0" r="3.7" fill="#30123b" stroke="#0a030c" stroke-width="1.3"/><circle cx="83.0" cy="359.0" r="3.7" fill="#30123b" stroke="#0a030c" stroke-width="1.3"/><circle cx="137.4" cy="355.5" r="3.7" fill="#30123b" stroke="#0a030c" stroke-width="1.3"/><circle cx="95.2" cy="344.7" r="3.7" fill="#30123b" stroke="#0a030c" stroke-width="1.3"/><circle cx="89.1" cy="365.9" r="3.7" fill="#30123b" stroke="#0a030c" stroke-width="1.3"/><circle cx="82.2" cy="353.9" r="3.7" fill="#30123b" stroke="#0a030c" stroke-width="1.3"/><circle cx="91.7" cy="344.0" r="3.7" fill="#30123b" stroke="#0a030c" stroke-width="1.3"/><circle cx="66.6" cy="327.8" r="3.7" fill="#30123b" stroke="#0a030c" stroke-width="1.3"/><circle cx="105.3" cy="357.5" r="3.7" fill="#30123b" stroke="#0a030c" stroke-width="1.3"/><circle cx="84.1" cy="364.1" r="3.7" fill="#30123b" stroke="#0a030c" stroke-width="1.3"/><circle cx="95.4" cy="366.0" r="3.7" fill="#30123b" stroke="#0a030c" stroke-width="1.3"/><circle cx="127.4" cy="355.5" r="3.7" fill="#30123b" stroke="#0a030c" stroke-width="1.3"/><circle cx="103.7" cy="370.9" r="3.7" fill="#30123b" stroke="#0a030c" stroke-width="1.3"/><circle cx="86.9" cy="346.3" r="3.7" fill="#30123b" stroke="#0a030c" stroke-width="1.3"/><circle cx="132.0" cy="361.2" r="3.7" fill="#30123b" stroke="#0a030c" stroke-width="1.3"/><circle cx="134.2" cy="368.8" r="3.7" fill="#30123b" stroke="#0a030c" stroke-width="1.3"/><circle cx="117.5" cy="359.7" r="3.7" fill="#30123b" stroke="#0a030c" stroke-width="1.3"/><circle cx="99.8" cy="371.6" r="3.7" fill="#30123b" stroke="#0a030c" stroke-width="1.3"/><circle cx="112.7" cy="354.3" r="3.7" fill="#30123b" stroke="#0a030c" stroke-width="1.3"/><circle cx="97.1" cy="355.8" r="3.7" fill="#30123b" stroke="#0a030c" stroke-width="1.3"/><circle cx="62.5" cy="354.5" r="3.7" fill="#30123b" stroke="#0a030c" stroke-width="1.3"/><circle cx="82.0" cy="344.0" r="3.7" fill="#30123b" stroke="#0a030c" stroke-width="1.3"/><circle cx="113.2" cy="331.8" r="3.7" fill="#30123b" stroke="#0a030c" stroke-width="1.3"/><circle cx="101.1" cy="357.7" r="3.7" fill="#30123b" stroke="#0a030c" stroke-width="1.3"/><circle cx="98.6" cy="328.6" r="3.7" fill="#30123b" stroke="#0a030c" stroke-width="1.3"/><circle cx="142.8" cy="364.6" r="3.7" fill="#30123b" stroke="#0a030c" stroke-width="1.3"/><circle cx="151.1" cy="339.1" r="3.7" fill="#30123b" stroke="#0a030c" stroke-width="1.3"/><circle cx="108.9" cy="355.8" r="3.7" fill="#30123b" stroke="#0a030c" stroke-width="1.3"/><circle cx="103.4" cy="364.3" r="3.7" fill="#30123b" stroke="#0a030c" stroke-width="1.3"/><circle cx="313.7" cy="344.5" r="3.7" fill="#e4460a" stroke="#320f02" stroke-width="1.3"/></g><g><rect x="114.1" y="314.2" width="7.8" height="7.8" fill="none" stroke="#18091d" stroke-width="2.5"/><rect x="114.1" y="314.2" width="7.8" height="7.8" fill="none" stroke="#30123b" stroke-width="1.2"/><rect x="113.3" y="318.6" width="7.8" height="7.8" fill="none" stroke="#18091d" stroke-width="2.5"/><rect x="113.3" y="318.6" width="7.8" height="7.8" fill="none" stroke="#30123b" stroke-width="1.2"/><rect x="120.6" y="323.1" width="7.8" height="7.8" fill="none" stroke="#18091d" stroke-width="2.5"/><rect x="120.6" y="323.1" width="7.8" height="7.8" fill="none" stroke="#30123b" stroke-width="1.2"/><rect x="133.5" y="333.6" width="7.8" height="7.8" fill="none" stroke="#18091d" stroke-width="2.5"/><rect x="133.5" y="333.6" width="7.8" height="7.8" fill="none" stroke="#30123b" stroke-width="1.2"/><rect x="94.7" y="331.1" width="7.8" height="7.8" fill="none" stroke="#18091d" stroke-width="2.5"/><rect x="94.7" y="331.1" width="7.8" height="7.8" fill="none" stroke="#30123b" stroke-width="1.2"/><rect x="69.7" y="335.2" width="7.8" height="7.8" fill="none" stroke="#18091d" stroke-width="2.5"/><rect x="69.7" y="335.2" width="7.8" height="7.8" fill="none" stroke="#30123b" stroke-width="1.2"/><rect x="77.8" y="327.1" width="7.8" height="7.8" fill="none" stroke="#18091d" stroke-width="2.5"/><rect x="77.8" y="327.1" width="7.8" height="7.8" fill="none" stroke="#30123b" stroke-width="1.2"/><rect x="82.6" y="323.9" width="7.8" height="7.8" fill="none" stroke="#18091d" stroke-width="2.5"/><rect x="82.6" y="323.9" width="7.8" height="7.8" fill="none" stroke="#30123b" stroke-width="1.2"/><rect x="80.1" y="330.1" width="7.8" height="7.8" fill="none" stroke="#18091d" stroke-width="2.5"/><rect x="80.1" y="330.1" width="7.8" height="7.8" fill="none" stroke="#30123b" stroke-width="1.2"/><rect x="189.0" y="264.1" width="7.8" height="7.8" fill="none" stroke="#23437d" stroke-width="2.5"/><rect x="189.0" y="264.1" width="7.8" height="7.8" fill="none" stroke="#4686fb" stroke-width="1.2"/><rect x="198.5" y="267.7" width="7.8" height="7.8" fill="none" stroke="#23437d" stroke-width="2.5"/><rect x="198.5" y="267.7" width="7.8" height="7.8" fill="none" stroke="#4686fb" stroke-width="1.2"/><rect x="208.0" y="276.0" width="7.8" height="7.8" fill="none" stroke="#23437d" stroke-width="2.5"/><rect x="208.0" y="276.0" width="7.8" height="7.8" fill="none" stroke="#4686fb" stroke-width="1.2"/><rect x="234.1" y="273.6" width="7.8" height="7.8" fill="none" stroke="#23437d" stroke-width="2.5"/><rect x="234.1" y="273.6" width="7.8" height="7.8" fill="none" stroke="#4686fb" stroke-width="1.2"/><rect x="247.1" y="297.3" width="7.8" height="7.8" fill="none" stroke="#23437d" stroke-width="2.5"/><rect x="247.1" y="297.3" width="7.8" height="7.8" fill="none" stroke="#4686fb" stroke-width="1.2"/><rect x="217.5" y="289.0" width="7.8" height="7.8" fill="none" stroke="#23437d" stroke-width="2.5"/><rect x="217.5" y="289.0" width="7.8" height="7.8" fill="none" stroke="#4686fb" stroke-width="1.2"/><rect x="228.1" y="277.1" width="7.8" height="7.8" fill="none" stroke="#23437d" stroke-width="2.5"/><rect x="228.1" y="277.1" width="7.8" height="7.8" fill="none" stroke="#4686fb" stroke-width="1.2"/><rect x="241.1" y="280.1" width="7.8" height="7.8" fill="none" stroke="#23437d" stroke-width="2.5"/><rect x="241.1" y="280.1" width="7.8" height="7.8" fill="none" stroke="#4686fb" stroke-width="1.2"/><rect x="224.1" y="292.1" width="7.8" height="7.8" fill="none" stroke="#23437d" stroke-width="2.5"/><rect x="224.1" y="292.1" width="7.8" height="7.8" fill="none" stroke="#4686fb" stroke-width="1.2"/><rect x="312.3" y="222.4" width="7.8" height="7.8" fill="none" stroke="#0d725b" stroke-width="2.5"/><rect x="312.3" y="222.4" width="7.8" height="7.8" fill="none" stroke="#1ae4b6" stroke-width="1.2"/><rect x="300.5" y="227.6" width="7.8" height="7.8" fill="none" stroke="#0d725b" stroke-width="2.5"/><rect x="300.5" y="227.6" width="7.8" height="7.8" fill="none" stroke="#1ae4b6" stroke-width="1.2"/><rect x="327.7" y="226.0" width="7.8" height="7.8" fill="none" stroke="#0d725b" stroke-width="2.5"/><rect x="327.7" y="226.0" width="7.8" height="7.8" fill="none" stroke="#1ae4b6" stroke-width="1.2"/><rect x="351.4" y="226.0" width="7.8" height="7.8" fill="none" stroke="#0d725b" stroke-width="2.5"/><rect x="351.4" y="226.0" width="7.8" height="7.8" fill="none" stroke="#1ae4b6" stroke-width="1.2"/><rect x="323.0" y="235.5" width="7.8" height="7.8" fill="none" stroke="#0d725b" stroke-width="2.5"/><rect x="323.0" y="235.5" width="7.8" height="7.8" fill="none" stroke="#1ae4b6" stroke-width="1.2"/><rect x="362.1" y="239.0" width="7.8" height="7.8" fill="none" stroke="#0d725b" stroke-width="2.5"/><rect x="362.1" y="239.0" width="7.8" height="7.8" fill="none" stroke="#1ae4b6" stroke-width="1.2"/><rect x="341.9" y="249.7" width="7.8" height="7.8" fill="none" stroke="#0d725b" stroke-width="2.5"/><rect x="341.9" y="249.7" width="7.8" height="7.8" fill="none" stroke="#1ae4b6" stroke-width="1.2"/><rect x="346.7" y="236.6" width="7.8" height="7.8" fill="none" stroke="#0d725b" stroke-width="2.5"/><rect x="346.7" y="236.6" width="7.8" height="7.8" fill="none" stroke="#1ae4b6" stroke-width="1.2"/><rect x="412.3" y="175.2" width="7.8" height="7.8" fill="none" stroke="#517e1e" stroke-width="2.5"/><rect x="412.3" y="175.2" width="7.8" height="7.8" fill="none" stroke="#a2fc3c" stroke-width="1.2"/><rect x="420.0" y="177.5" width="7.8" height="7.8" fill="none" stroke="#517e1e" stroke-width="2.5"/><rect x="420.0" y="177.5" width="7.8" height="7.8" fill="none" stroke="#a2fc3c" stroke-width="1.2"/><rect x="435.5" y="174.8" width="7.8" height="7.8" fill="none" stroke="#517e1e" stroke-width="2.5"/><rect x="435.5" y="174.8" width="7.8" height="7.8" fill="none" stroke="#a2fc3c" stroke-width="1.2"/><rect x="435.5" y="183.9" width="7.8" height="7.8" fill="none" stroke="#517e1e" stroke-width="2.5"/><rect x="435.5" y="183.9" width="7.8" height="7.8" fill="none" stroke="#a2fc3c" stroke-width="1.2"/><rect x="445.2" y="182.5" width="7.8" height="7.8" fill="none" stroke="#517e1e" stroke-width="2.5"/><rect x="445.2" y="182.5" width="7.8" height="7.8" fill="none" stroke="#a2fc3c" stroke-width="1.2"/><rect x="456.8" y="186.4" width="7.8" height="7.8" fill="none" stroke="#517e1e" stroke-width="2.5"/><rect x="456.8" y="186.4" width="7.8" height="7.8" fill="none" stroke="#a2fc3c" stroke-width="1.2"/><rect x="467.5" y="186.4" width="7.8" height="7.8" fill="none" stroke="#517e1e" stroke-width="2.5"/><rect x="467.5" y="186.4" width="7.8" height="7.8" fill="none" stroke="#a2fc3c" stroke-width="1.2"/><rect x="483.0" y="183.9" width="7.8" height="7.8" fill="none" stroke="#517e1e" stroke-width="2.5"/><rect x="483.0" y="183.9" width="7.8" height="7.8" fill="none" stroke="#a2fc3c" stroke-width="1.2"/><rect x="478.1" y="192.2" width="7.8" height="7.8" fill="none" stroke="#517e1e" stroke-width="2.5"/><rect x="478.1" y="192.2" width="7.8" height="7.8" fill="none" stroke="#a2fc3c" stroke-width="1.2"/><rect x="523.8" y="123.4" width="7.8" height="7.8" fill="none" stroke="#7d5d1c" stroke-width="2.5"/><rect x="523.8" y="123.4" width="7.8" height="7.8" fill="none" stroke="#faba39" stroke-width="1.2"/><rect x="529.2" y="126.7" width="7.8" height="7.8" fill="none" stroke="#7d5d1c" stroke-width="2.5"/><rect x="529.2" y="126.7" width="7.8" height="7.8" fill="none" stroke="#faba39" stroke-width="1.2"/><rect x="551.1" y="128.9" width="7.8" height="7.8" fill="none" stroke="#7d5d1c" stroke-width="2.5"/><rect x="551.1" y="128.9" width="7.8" height="7.8" fill="none" stroke="#faba39" stroke-width="1.2"/><rect x="558.7" y="131.0" width="7.8" height="7.8" fill="none" stroke="#7d5d1c" stroke-width="2.5"/><rect x="558.7" y="131.0" width="7.8" height="7.8" fill="none" stroke="#faba39" stroke-width="1.2"/><rect x="569.6" y="135.8" width="7.8" height="7.8" fill="none" stroke="#7d5d1c" stroke-width="2.5"/><rect x="569.6" y="135.8" width="7.8" height="7.8" fill="none" stroke="#faba39" stroke-width="1.2"/><rect x="574.0" y="133.7" width="7.8" height="7.8" fill="none" stroke="#7d5d1c" stroke-width="2.5"/><rect x="574.0" y="133.7" width="7.8" height="7.8" fill="none" stroke="#faba39" stroke-width="1.2"/><rect x="587.1" y="132.8" width="7.8" height="7.8" fill="none" stroke="#7d5d1c" stroke-width="2.5"/><rect x="587.1" y="132.8" width="7.8" height="7.8" fill="none" stroke="#faba39" stroke-width="1.2"/><rect x="591.5" y="135.4" width="7.8" height="7.8" fill="none" stroke="#7d5d1c" stroke-width="2.5"/><rect x="591.5" y="135.4" width="7.8" height="7.8" fill="none" stroke="#faba39" stroke-width="1.2"/><rect x="614.0" y="71.2" width="7.8" height="7.8" fill="none" stroke="#722305" stroke-width="2.5"/><rect x="614.0" y="71.2" width="7.8" height="7.8" fill="none" stroke="#e4460a" stroke-width="1.2"/><rect x="636.9" y="72.3" width="7.8" height="7.8" fill="none" stroke="#722305" stroke-width="2.5"/><rect x="636.9" y="72.3" width="7.8" height="7.8" fill="none" stroke="#e4460a" stroke-width="1.2"/><rect x="651.1" y="78.4" width="7.8" height="7.8" fill="none" stroke="#722305" stroke-width="2.5"/><rect x="651.1" y="78.4" width="7.8" height="7.8" fill="none" stroke="#e4460a" stroke-width="1.2"/><rect x="660.9" y="74.5" width="7.8" height="7.8" fill="none" stroke="#722305" stroke-width="2.5"/><rect x="660.9" y="74.5" width="7.8" height="7.8" fill="none" stroke="#e4460a" stroke-width="1.2"/><rect x="669.6" y="84.3" width="7.8" height="7.8" fill="none" stroke="#722305" stroke-width="2.5"/><rect x="669.6" y="84.3" width="7.8" height="7.8" fill="none" stroke="#e4460a" stroke-width="1.2"/><rect x="680.6" y="84.3" width="7.8" height="7.8" fill="none" stroke="#722305" stroke-width="2.5"/><rect x="680.6" y="84.3" width="7.8" height="7.8" fill="none" stroke="#e4460a" stroke-width="1.2"/><rect x="695.5" y="19.4" width="7.8" height="7.8" fill="none" stroke="#3d0201" stroke-width="2.5"/><rect x="695.5" y="19.4" width="7.8" height="7.8" fill="none" stroke="#7a0403" stroke-width="1.2"/></g><path d="M326.6,306.0 C330.8,306.0 334.5,307.4 340.0,309.5 C345.5,311.6 352.9,315.2 359.4,318.3 C365.9,321.4 372.4,324.3 378.8,327.9 C385.2,331.4 392.3,336.0 398.1,339.6 C403.9,343.2 409.4,346.2 413.6,349.3 C417.8,352.4 422.2,355.4 423.5,358.5 C424.8,361.6 423.6,365.2 421.4,367.7 C419.1,370.2 414.6,371.9 410.0,373.5 C405.4,375.1 399.2,376.7 394.0,377.6 C388.8,378.5 384.6,378.7 378.8,378.7 C373.0,378.7 366.9,378.2 359.4,377.4 C351.8,376.6 341.3,375.1 333.5,374.1 C325.7,373.1 318.8,372.6 312.8,371.6 C306.8,370.6 302.2,369.4 297.3,368.1 C292.4,366.8 286.9,365.4 283.5,363.8 C280.1,362.2 278.0,360.3 276.6,358.6 C275.2,356.9 274.3,356.0 274.9,353.4 C275.5,350.8 277.4,346.8 280.0,343.1 C282.6,339.4 286.6,334.7 290.4,331.0 C294.1,327.3 298.5,324.3 302.5,320.7 C306.5,317.1 310.6,311.9 314.6,309.5 C318.6,307.1 322.4,306.0 326.6,306.0Z" fill="none" stroke="#282828" stroke-width="1.7" stroke-dasharray="4.5 3"/><text transform="translate(326,347.5) scale(1.1,1)" font-family="Liberation Serif" font-size="16.8" fill="#2a2a2a">Outliers</text><path d="M426,361 C512.4,326.4 579.6,269 583.5,196" fill="none" stroke="#5f3d9c" stroke-width="2" stroke-dasharray="5 3.5"/><path d="M583.8,184.5 L577.6,196 L583.6,194 L589,196 Z" fill="#5f3d9c"/><text transform="translate(460,330) rotate(-36) scale(1.06,1)" font-family="Liberation Serif" font-size="17.5" fill="#6a58a0">Other attempts</text><g stroke="#808080" stroke-width="1" fill="none"><line x1="56.6" y1="11.3" x2="56.6" y2="406.7"/><line x1="56.1" y1="406.2" x2="812.7" y2="406.2"/><line x1="56.6" y1="406.17" x2="63.6" y2="406.17"/><line x1="56.6" y1="356.80" x2="63.6" y2="356.80"/><line x1="56.6" y1="307.43" x2="63.6" y2="307.43"/><line x1="56.6" y1="258.06" x2="63.6" y2="258.06"/><line x1="56.6" y1="208.69" x2="63.6" y2="208.69"/><line x1="56.6" y1="159.32" x2="63.6" y2="159.32"/><line x1="56.6" y1="109.95" x2="63.6" y2="109.95"/><line x1="56.6" y1="60.58" x2="63.6" y2="60.58"/><line x1="56.6" y1="11.21" x2="63.6" y2="11.21"/><line x1="57.90" y1="406.2" x2="57.90" y2="399.2"/><line x1="305.70" y1="406.2" x2="305.70" y2="399.2"/><line x1="231.10" y1="406.2" x2="231.10" y2="402.2"/><line x1="187.47" y1="406.2" x2="187.47" y2="402.2"/><line x1="156.51" y1="406.2" x2="156.51" y2="402.2"/><line x1="132.50" y1="406.2" x2="132.50" y2="402.2"/><line x1="112.87" y1="406.2" x2="112.87" y2="402.2"/><line x1="96.28" y1="406.2" x2="96.28" y2="402.2"/><line x1="81.91" y1="406.2" x2="81.91" y2="402.2"/><line x1="69.24" y1="406.2" x2="69.24" y2="402.2"/><line x1="553.50" y1="406.2" x2="553.50" y2="399.2"/><line x1="478.90" y1="406.2" x2="478.90" y2="402.2"/><line x1="435.27" y1="406.2" x2="435.27" y2="402.2"/><line x1="404.31" y1="406.2" x2="404.31" y2="402.2"/><line x1="380.30" y1="406.2" x2="380.30" y2="402.2"/><line x1="360.67" y1="406.2" x2="360.67" y2="402.2"/><line x1="344.08" y1="406.2" x2="344.08" y2="402.2"/><line x1="329.71" y1="406.2" x2="329.71" y2="402.2"/><line x1="317.04" y1="406.2" x2="317.04" y2="402.2"/><line x1="801.30" y1="406.2" x2="801.30" y2="399.2"/><line x1="726.70" y1="406.2" x2="726.70" y2="402.2"/><line x1="683.07" y1="406.2" x2="683.07" y2="402.2"/><line x1="652.11" y1="406.2" x2="652.11" y2="402.2"/><line x1="628.10" y1="406.2" x2="628.10" y2="402.2"/><line x1="608.47" y1="406.2" x2="608.47" y2="402.2"/><line x1="591.88" y1="406.2" x2="591.88" y2="402.2"/><line x1="577.51" y1="406.2" x2="577.51" y2="402.2"/><line x1="564.84" y1="406.2" x2="564.84" y2="402.2"/></g><g font-family="Liberation Serif" fill="#2e2e2e"><text x="50.5" y="412.37" font-size="21" text-anchor="end">-5</text><text x="50.5" y="363.00" font-size="21" text-anchor="end">0</text><text x="50.5" y="313.63" font-size="21" text-anchor="end">5</text><text x="50.5" y="264.26" font-size="21" text-anchor="end">10</text><text x="50.5" y="214.89" font-size="21" text-anchor="end">15</text><text x="50.5" y="165.52" font-size="21" text-anchor="end">20</text><text x="50.5" y="116.15" font-size="21" text-anchor="end">25</text><text x="50.5" y="66.78" font-size="21" text-anchor="end">30</text><text x="50.5" y="17.41" font-size="21" text-anchor="end">35</text><text x="39.30" y="429.1" font-size="20">10</text><line x1="60.20" y1="418.3" x2="67.70" y2="418.3" stroke="#222" stroke-width="1.1"/><text x="69.50" y="422" font-size="14">1</text><text x="287.10" y="429.1" font-size="20">10</text><line x1="308.00" y1="418.3" x2="315.50" y2="418.3" stroke="#222" stroke-width="1.1"/><text x="317.30" y="422" font-size="14">2</text><text x="534.90" y="429.1" font-size="20">10</text><line x1="555.80" y1="418.3" x2="563.30" y2="418.3" stroke="#222" stroke-width="1.1"/><text x="565.10" y="422" font-size="14">3</text><text x="782.70" y="429.1" font-size="20">10</text><line x1="803.60" y1="418.3" x2="811.10" y2="418.3" stroke="#222" stroke-width="1.1"/><text x="812.90" y="422" font-size="14">4</text></g><text x="434.6" y="456" font-family="Liberation Serif" font-size="25" text-anchor="middle" fill="#222">Spectrogram G Error</text><text transform="translate(21,209) rotate(-90) scale(1.018,1)" x="0" y="0" font-family="Liberation Serif" font-size="24" text-anchor="middle" fill="#222">Pulse reconstruction SNR [dB]</text><rect x="653.6" y="138.3" width="155.9" height="61.5" fill="#fff" stroke="#aaa" stroke-width="1"/><rect x="658.25" y="147.45" width="18.5" height="18.5" fill="#fff" stroke="#2f55c0" stroke-width="4.8"/><rect x="658.25" y="147.45" width="18.5" height="18.5" fill="none" stroke="#4c80ec" stroke-width="2.4"/><circle cx="666.6" cy="186" r="7.5" fill="#4686fb" stroke="#151515" stroke-width="1.8"/><text transform="translate(692,162.8) scale(1.05,1)" font-family="Liberation Serif" font-size="23" fill="#222">Ord. FROG</text><text transform="translate(701.5,193.6) scale(1.03,1)" font-family="Liberation Serif" font-size="23" fill="#222">V-FROG</text><rect x="653.6" y="211" width="161.1" height="187.3" fill="#fff" stroke="#aaa" stroke-width="1"/><circle cx="666" cy="224.6" r="7.5" fill="#30123b" stroke="#151515" stroke-width="1.8"/><text transform="translate(678.3,232.7) scale(1.03,1)" font-family="Liberation Serif" font-size="23.6" fill="#222">SNR = 0 dB</text><circle cx="666" cy="251.2" r="7.5" fill="#4686fb" stroke="#151515" stroke-width="1.8"/><text transform="translate(678.3,259.2) scale(1.03,1)" font-family="Liberation Serif" font-size="23.6" fill="#222">SNR = 10 dB</text><circle cx="666" cy="277.7" r="7.5" fill="#1ae4b6" stroke="#151515" stroke-width="1.8"/><text transform="translate(678.3,285.8) scale(1.03,1)" font-family="Liberation Serif" font-size="23.6" fill="#222">SNR = 20 dB</text><circle cx="666" cy="304.2" r="7.5" fill="#a2fc3c" stroke="#151515" stroke-width="1.8"/><text transform="translate(678.3,312.4) scale(1.03,1)" font-family="Liberation Serif" font-size="23.6" fill="#222">SNR = 30 dB</text><circle cx="666" cy="330.8" r="7.5" fill="#faba39" stroke="#151515" stroke-width="1.8"/><text transform="translate(678.3,338.9) scale(1.03,1)" font-family="Liberation Serif" font-size="23.6" fill="#222">SNR = 40 dB</text><circle cx="666" cy="357.4" r="7.5" fill="#e4460a" stroke="#151515" stroke-width="1.8"/><text transform="translate(678.3,365.5) scale(1.03,1)" font-family="Liberation Serif" font-size="23.6" fill="#222">SNR = 50 dB</text><circle cx="666" cy="383.9" r="7.5" fill="#7a0403" stroke="#151515" stroke-width="1.8"/><text transform="translate(678.3,392.0) scale(1.03,1)" font-family="Liberation Serif" font-size="23.6" fill="#222">SNR = 60 dB</text></svg></body></html>
